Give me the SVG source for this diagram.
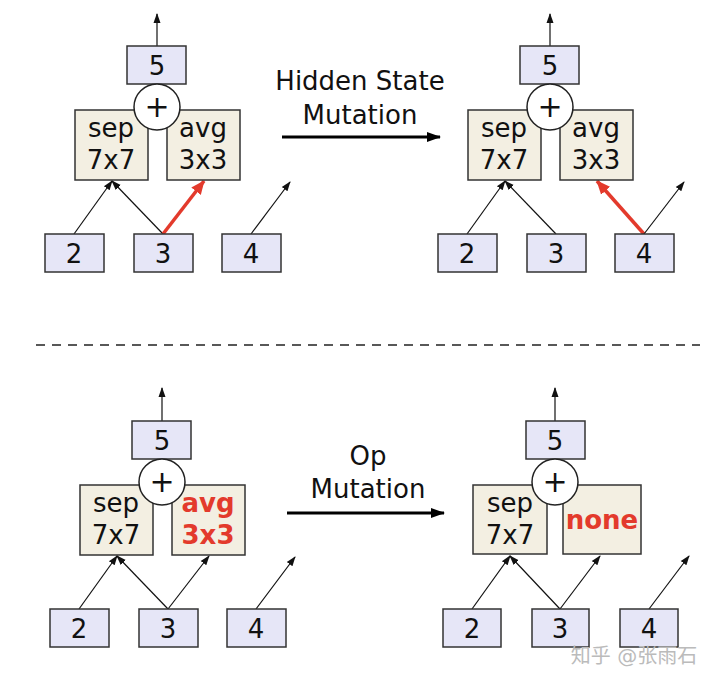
<svg xmlns="http://www.w3.org/2000/svg" width="720" height="683" viewBox="0 0 720 683">
<style>
text{font-family:"DejaVu Sans","Noto Sans CJK SC",sans-serif;font-size:26px;text-anchor:middle;fill:#111}
.n{fill:#e6e6f7;stroke:#333;stroke-width:1.5}
.o{fill:#f3efe2;stroke:#333;stroke-width:1.5}
.c{fill:#fff;stroke:#222;stroke-width:1.5}
.l{stroke:#111;stroke-width:1.2;fill:none;marker-end:url(#a)}
.r{stroke:#e33a2c;stroke-width:3.5;fill:none;marker-end:url(#ar)}
.b{stroke:#000;stroke-width:3;fill:none;marker-end:url(#ab)}
.red{fill:#e33a2c;font-weight:bold}
</style>
<defs>
<marker id="a" markerWidth="10" markerHeight="10" refX="9" refY="5" orient="auto" markerUnits="userSpaceOnUse"><path d="M0,1.5 L10,5 L0,8.5 z" fill="#111"/></marker>
<marker id="ar" markerWidth="14" markerHeight="14" refX="13" refY="7" orient="auto" markerUnits="userSpaceOnUse"><path d="M0,1 L14,7 L0,13 z" fill="#e33a2c"/></marker>
<marker id="ab" markerWidth="14" markerHeight="14" refX="13" refY="7" orient="auto" markerUnits="userSpaceOnUse"><path d="M0,2 L14,7 L0,12 z" fill="#000"/></marker>
</defs>
<g id="connectors">
<path class="l" d="M157,46 V14"/><path class="l" d="M74,234 L112,181"/><path class="l" d="M163,234 L112,181"/><path class="r" d="M163,234 L204,181"/><path class="l" d="M251,234 L290,182"/>
<path class="l" d="M550,46 V14"/><path class="l" d="M467,234 L505,181"/><path class="l" d="M556,234 L505,181"/><path class="r" d="M644,234 L597,181"/><path class="l" d="M644,234 L684,182"/>
<path class="l" d="M162,421 V388"/><path class="l" d="M79,609 L117,556"/><path class="l" d="M168,609 L117,556"/><path class="l" d="M168,609 L209,556"/><path class="l" d="M256,609 L295,557"/>
<path class="l" d="M555,421 V388"/><path class="l" d="M472,609 L510,556"/><path class="l" d="M560,609 L510,556"/><path class="l" d="M560,609 L600,556"/><path class="l" d="M649,609 L689,556"/>
<path class="b" d="M282,137 H440"/><path class="b" d="M287,513 H444"/>
<path d="M36,345 H700" stroke="#222" stroke-width="1.3" stroke-dasharray="9,7"/>
</g>
<g id="p1">
<g id="p1-sep"><rect class="o" x="75" y="110" width="73" height="70"/><text x="111" y="137">sep</text><text x="111" y="169">7x7</text></g>
<g id="p1-avg"><rect class="o" x="167" y="110" width="73" height="70"/><text x="203" y="137">avg</text><text x="203" y="169">3x3</text></g>
<g id="p1-5"><rect class="n" x="127" y="46" width="59" height="38"/><text x="157" y="75">5</text></g>
<g id="p1-plus"><circle class="c" cx="157" cy="107" r="23"/><text x="157" y="117" style="font-size:30px">+</text></g>
<g id="p1-2"><rect class="n" x="45" y="234" width="59" height="38"/><text x="74" y="263">2</text></g>
<g id="p1-3"><rect class="n" x="134" y="234" width="59" height="38"/><text x="163" y="263">3</text></g>
<g id="p1-4"><rect class="n" x="222" y="234" width="59" height="38"/><text x="251" y="263">4</text></g>
</g>
<g id="p2">
<g id="p2-sep"><rect class="o" x="468" y="110" width="73" height="70"/><text x="504" y="137">sep</text><text x="504" y="169">7x7</text></g>
<g id="p2-avg"><rect class="o" x="560" y="110" width="73" height="70"/><text x="596" y="137">avg</text><text x="596" y="169">3x3</text></g>
<g id="p2-5"><rect class="n" x="520" y="46" width="59" height="38"/><text x="550" y="75">5</text></g>
<g id="p2-plus"><circle class="c" cx="550" cy="107" r="23"/><text x="550" y="117" style="font-size:30px">+</text></g>
<g id="p2-2"><rect class="n" x="438" y="234" width="59" height="38"/><text x="467" y="263">2</text></g>
<g id="p2-3"><rect class="n" x="527" y="234" width="59" height="38"/><text x="556" y="263">3</text></g>
<g id="p2-4"><rect class="n" x="615" y="234" width="59" height="38"/><text x="644" y="263">4</text></g>
</g>
<g id="p3">
<g id="p3-sep"><rect class="o" x="80" y="485" width="73" height="70"/><text x="116" y="512">sep</text><text x="116" y="544">7x7</text></g>
<g id="p3-avg"><rect class="o" x="172" y="485" width="73" height="70"/><text class="red" x="208" y="512">avg</text><text class="red" x="208" y="544">3x3</text></g>
<g id="p3-5"><rect class="n" x="132" y="421" width="59" height="38"/><text x="162" y="450">5</text></g>
<g id="p3-plus"><circle class="c" cx="162" cy="482" r="23"/><text x="162" y="492" style="font-size:30px">+</text></g>
<g id="p3-2"><rect class="n" x="50" y="609" width="59" height="38"/><text x="79" y="638">2</text></g>
<g id="p3-3"><rect class="n" x="139" y="609" width="59" height="38"/><text x="168" y="638">3</text></g>
<g id="p3-4"><rect class="n" x="227" y="609" width="59" height="38"/><text x="256" y="638">4</text></g>
</g>
<g id="p4">
<g id="p4-sep"><rect class="o" x="473" y="485" width="74" height="69"/><text x="510" y="512">sep</text><text x="510" y="544">7x7</text></g>
<g id="p4-none"><rect class="o" x="563" y="485" width="78" height="69"/><text class="red" x="602" y="529">none</text></g>
<g id="p4-5"><rect class="n" x="526" y="421" width="59" height="38"/><text x="555" y="450">5</text></g>
<g id="p4-plus"><circle class="c" cx="555" cy="482" r="23"/><text x="555" y="492" style="font-size:30px">+</text></g>
<g id="p4-2"><rect class="n" x="443" y="609" width="58" height="38"/><text x="472" y="638">2</text></g>
<g id="p4-3"><rect class="n" x="532" y="609" width="57" height="38"/><text x="560" y="638">3</text></g>
<g id="p4-4"><rect class="n" x="620" y="609" width="58" height="38"/><text x="649" y="638">4</text></g>
</g>
<g id="labels">
<text x="360" y="90">Hidden State</text><text x="360" y="124">Mutation</text>
<text x="368" y="465">Op</text><text x="368" y="498">Mutation</text>
<text x="634" y="663" style="font-size:20px;fill:#bbb">知乎 @张雨石</text>
</g>
</svg>
